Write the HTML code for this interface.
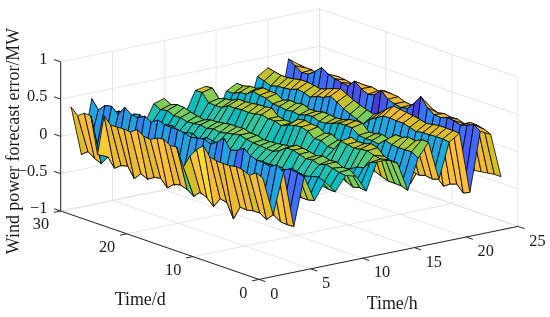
<!DOCTYPE html>
<html><head><meta charset="utf-8"><title>Wind power forecast error</title>
<style>html,body{margin:0;padding:0;background:#fff}svg{display:block}</style></head>
<body>
<svg width="550" height="317" viewBox="0 0 550 317">
<rect width="550" height="317" fill="#fff"/>
<path d="M259 279.4L60.7 211M310.8 268.8L112.5 200.4M362.6 258.2L164.3 189.8M414.4 247.6L216.1 179.2M466.2 237L267.9 168.6M518 226.4L319.7 158M259 279.4L518 226.4M192.9 256.6L451.9 203.6M126.8 233.8L385.8 180.8M60.7 211L319.7 158M60.7 211L60.7 61.8M112.5 200.4L112.5 51.2M164.3 189.8L164.3 40.6M216.1 179.2L216.1 30M267.9 168.6L267.9 19.4M319.7 158L319.7 8.8M60.7 211L319.7 158M60.7 173.7L319.7 120.7M60.7 136.4L319.7 83.4M60.7 99.1L319.7 46.1M60.7 61.8L319.7 8.8M518 226.4L518 77.2M451.9 203.6L451.9 54.4M385.8 180.8L385.8 31.6M319.7 158L319.7 8.8M518 226.4L319.7 158M518 189.1L319.7 120.7M518 151.8L319.7 83.4M518 114.5L319.7 46.1M518 77.2L319.7 8.8" stroke="#e0e0e0" stroke-width="0.8" fill="none"/>
<g stroke="#000" stroke-width="0.8" stroke-linejoin="round">
<path d="M305.6 67.8L315.9 115.9L309.3 116.1L299 64.6Z" fill="#e7bb2d"/>
<path d="M295.2 65.9L305.6 67.8L299 64.6L288.6 58.9Z" fill="#fcbc3d"/>
<path d="M284.9 127.6L295.2 65.9L288.6 58.9L278.3 117Z" fill="#416bfe"/>
<path d="M274.5 71.7L284.9 127.6L278.3 117L267.9 67.9Z" fill="#f5ba3b"/>
<path d="M264.1 81L274.5 71.7L267.9 67.9L257.5 76.6Z" fill="#c4c22a"/>
<path d="M253.8 114.3L264.1 81L257.5 76.6L247.2 113.3Z" fill="#16afd9"/>
<path d="M243.4 86L253.8 114.3L247.2 113.3L236.8 83.3Z" fill="#bec32e"/>
<path d="M233.1 93.5L243.4 86L236.8 83.3L226.5 91Z" fill="#8dcb4f"/>
<path d="M222.7 117.7L233.1 93.5L226.5 91L216.1 117.4Z" fill="#05b6ce"/>
<path d="M212.3 88L222.7 117.7L216.1 117.4L205.7 86.4Z" fill="#dfbc2a"/>
<path d="M202 92.6L212.3 88L205.7 86.4L195.4 90.4Z" fill="#cdc028"/>
<path d="M191.6 119.7L202 92.6L195.4 90.4L185 114.4Z" fill="#0ebdbb"/>
<path d="M181.3 121.9L191.6 119.7L185 114.4L174.7 118.8Z" fill="#0dbdbc"/>
<path d="M170.9 104.6L181.3 121.9L174.7 118.8L164.3 98.4Z" fill="#9dc943"/>
<path d="M160.6 109.7L170.9 104.6L164.3 98.4L153.9 103.7Z" fill="#80cc59"/>
<path d="M150.2 125.9L160.6 109.7L153.9 103.7L143.6 125.7Z" fill="#21c1b1"/>
<path d="M139.8 114.6L150.2 125.9L143.6 125.7L133.2 114Z" fill="#7acc5e"/>
<path d="M129.5 138.4L139.8 114.6L133.2 114L122.9 136.1Z" fill="#0fb2d5"/>
<path d="M119.1 111L129.5 138.4L122.9 136.1L112.5 113.2Z" fill="#c2c32c"/>
<path d="M108.8 154.1L119.1 111L112.5 113.2L102.1 155.7Z" fill="#2c90f0"/>
<path d="M98.4 109.9L108.8 154.1L102.1 155.7L91.8 98.7Z" fill="#e8bb2f"/>
<path d="M88 151.6L98.4 109.9L91.8 98.7L81.4 154.5Z" fill="#1fa5e2"/>
<path d="M77.7 115.7L88 151.6L81.4 154.5L71.1 107Z" fill="#debd29"/>
<path d="M312.2 69.9L322.6 117.8L315.9 115.9L305.6 67.8Z" fill="#e8bb2e"/>
<path d="M301.8 72.7L312.2 69.9L305.6 67.8L295.2 65.9Z" fill="#e3bb2c"/>
<path d="M291.5 130.7L301.8 72.7L295.2 65.9L284.9 127.6Z" fill="#4368fe"/>
<path d="M281.1 75.4L291.5 130.7L284.9 127.6L274.5 71.7Z" fill="#edba33"/>
<path d="M270.8 85.9L281.1 75.4L274.5 71.7L264.1 81Z" fill="#aec637"/>
<path d="M260.4 115.5L270.8 85.9L264.1 81L253.8 114.3Z" fill="#11b1d6"/>
<path d="M250 86.3L260.4 115.5L253.8 114.3L243.4 86Z" fill="#cec028"/>
<path d="M239.7 92.4L250 86.3L243.4 86L233.1 93.5Z" fill="#adc638"/>
<path d="M229.3 119.5L239.7 92.4L233.1 93.5L222.7 117.7Z" fill="#04b6cc"/>
<path d="M219 98.5L229.3 119.5L222.7 117.7L212.3 88Z" fill="#9bc944"/>
<path d="M208.6 102.8L219 98.5L212.3 88L202 92.6Z" fill="#87cb54"/>
<path d="M198.2 120.2L208.6 102.8L202 92.6L191.6 119.7Z" fill="#1cc0b3"/>
<path d="M187.9 124.3L198.2 120.2L191.6 119.7L181.3 121.9Z" fill="#0bbdbc"/>
<path d="M177.5 104.7L187.9 124.3L181.3 121.9L170.9 104.6Z" fill="#b1c636"/>
<path d="M167.2 110.6L177.5 104.7L170.9 104.6L160.6 109.7Z" fill="#8dcb4f"/>
<path d="M156.8 133.7L167.2 110.6L160.6 109.7L150.2 125.9Z" fill="#01b8ca"/>
<path d="M146.4 124.4L156.8 133.7L150.2 125.9L139.8 114.6Z" fill="#3bc992"/>
<path d="M136.1 144.4L146.4 124.4L139.8 114.6L129.5 138.4Z" fill="#1da8e0"/>
<path d="M125.7 115.3L136.1 144.4L129.5 138.4L119.1 111Z" fill="#b0c636"/>
<path d="M115.4 157.7L125.7 115.3L119.1 111L108.8 154.1Z" fill="#2d8bf4"/>
<path d="M105 105.5L115.4 157.7L108.8 154.1L98.4 109.9Z" fill="#fec735"/>
<path d="M94.6 158.4L105 105.5L98.4 109.9L88 151.6Z" fill="#2797ea"/>
<path d="M84.3 113.2L94.6 158.4L88 151.6L77.7 115.7Z" fill="#fabb3d"/>
<path d="M318.8 76.5L329.2 119.7L322.6 117.8L312.2 69.9Z" fill="#c9c129"/>
<path d="M308.4 74.2L318.8 76.5L312.2 69.9L301.8 72.7Z" fill="#e8bb2f"/>
<path d="M298.1 131.6L308.4 74.2L301.8 72.7L291.5 130.7Z" fill="#3f6efe"/>
<path d="M287.7 77.8L298.1 131.6L291.5 130.7L281.1 75.4Z" fill="#ecba32"/>
<path d="M277.4 86.3L287.7 77.8L281.1 75.4L270.8 85.9Z" fill="#bec32e"/>
<path d="M267 119.4L277.4 86.3L270.8 85.9L260.4 115.5Z" fill="#18addb"/>
<path d="M256.6 88.4L267 119.4L260.4 115.5L250 86.3Z" fill="#cfc028"/>
<path d="M246.3 94.2L256.6 88.4L250 86.3L239.7 92.4Z" fill="#b1c636"/>
<path d="M235.9 122.2L246.3 94.2L239.7 92.4L229.3 119.5Z" fill="#05b6ce"/>
<path d="M225.6 98.9L235.9 122.2L229.3 119.5L219 98.5Z" fill="#adc638"/>
<path d="M215.2 105.6L225.6 98.9L219 98.5L208.6 102.8Z" fill="#82cc57"/>
<path d="M204.8 122.8L215.2 105.6L208.6 102.8L198.2 120.2Z" fill="#1ac0b5"/>
<path d="M194.5 128.6L204.8 122.8L198.2 120.2L187.9 124.3Z" fill="#01bac5"/>
<path d="M184.1 107.6L194.5 128.6L187.9 124.3L177.5 104.7Z" fill="#abc739"/>
<path d="M173.8 115.7L184.1 107.6L177.5 104.7L167.2 110.6Z" fill="#71cd64"/>
<path d="M163.4 133.4L173.8 115.7L167.2 110.6L156.8 133.7Z" fill="#09bcbe"/>
<path d="M153 128.9L163.4 133.4L156.8 133.7L146.4 124.4Z" fill="#32c69f"/>
<path d="M142.7 145.1L153 128.9L146.4 124.4L136.1 144.4Z" fill="#19addc"/>
<path d="M132.3 120.3L142.7 145.1L136.1 144.4L125.7 115.3Z" fill="#98ca47"/>
<path d="M122 164.6L132.3 120.3L125.7 115.3L115.4 157.7Z" fill="#347afd"/>
<path d="M111.6 106.3L122 164.6L115.4 157.7L105 105.5Z" fill="#fdcd31"/>
<path d="M101.3 163.6L111.6 106.3L105 105.5L94.6 158.4Z" fill="#2d8df2"/>
<path d="M90.9 115.8L101.3 163.6L94.6 158.4L84.3 113.2Z" fill="#f9bb3d"/>
<path d="M325.4 79.5L335.8 123.5L329.2 119.7L318.8 76.5Z" fill="#c3c22b"/>
<path d="M315.1 71.3L325.4 79.5L318.8 76.5L308.4 74.2Z" fill="#fec13a"/>
<path d="M304.7 130.9L315.1 71.3L308.4 74.2L298.1 131.6Z" fill="#347afd"/>
<path d="M294.3 78.9L304.7 130.9L298.1 131.6L287.7 77.8Z" fill="#f3ba39"/>
<path d="M284 88L294.3 78.9L287.7 77.8L277.4 86.3Z" fill="#c3c22b"/>
<path d="M273.6 124.1L284 88L277.4 86.3L267 119.4Z" fill="#1ea7e1"/>
<path d="M263.3 87.9L273.6 124.1L267 119.4L256.6 88.4Z" fill="#e3bc2c"/>
<path d="M252.9 91L263.3 87.9L256.6 88.4L246.3 94.2Z" fill="#ddbd29"/>
<path d="M242.5 123.4L252.9 91L246.3 94.2L235.9 122.2Z" fill="#01b8ca"/>
<path d="M232.2 100.2L242.5 123.4L235.9 122.2L225.6 98.9Z" fill="#b5c533"/>
<path d="M221.8 107.5L232.2 100.2L225.6 98.9L215.2 105.6Z" fill="#85cb55"/>
<path d="M211.5 123.1L221.8 107.5L215.2 105.6L204.8 122.8Z" fill="#27c2ab"/>
<path d="M201.1 134.3L211.5 123.1L204.8 122.8L194.5 128.6Z" fill="#0db3d3"/>
<path d="M190.7 112L201.1 134.3L194.5 128.6L184.1 107.6Z" fill="#97ca47"/>
<path d="M180.4 117.7L190.7 112L184.1 107.6L173.8 115.7Z" fill="#75cc61"/>
<path d="M170 135.7L180.4 117.7L173.8 115.7L163.4 133.4Z" fill="#08bcbe"/>
<path d="M159.7 124.2L170 135.7L163.4 133.4L153 128.9Z" fill="#60cd73"/>
<path d="M149.3 149.1L159.7 124.2L153 128.9L142.7 145.1Z" fill="#1da8e0"/>
<path d="M138.9 125.6L149.3 149.1L142.7 145.1L132.3 120.3Z" fill="#7bcc5d"/>
<path d="M128.6 162.2L138.9 125.6L132.3 120.3L122 164.6Z" fill="#2d8bf3"/>
<path d="M118.2 114.5L128.6 162.2L122 164.6L111.6 106.3Z" fill="#f5ba3b"/>
<path d="M107.9 156.9L118.2 114.5L111.6 106.3L101.3 163.6Z" fill="#1caadf"/>
<path d="M97.5 154.6L107.9 156.9L101.3 163.6L90.9 115.8Z" fill="#07b5d0"/>
<path d="M332 77.8L342.4 123.6L335.8 123.5L325.4 79.5Z" fill="#e1bc2b"/>
<path d="M321.7 67.7L332 77.8L325.4 79.5L315.1 71.3Z" fill="#f8d92b"/>
<path d="M311.3 131.6L321.7 67.7L315.1 71.3L304.7 130.9Z" fill="#3080fa"/>
<path d="M300.9 79.9L311.3 131.6L304.7 130.9L294.3 78.9Z" fill="#fabb3d"/>
<path d="M290.6 89.5L300.9 79.9L294.3 78.9L284 88Z" fill="#c9c129"/>
<path d="M280.2 128.3L290.6 89.5L284 88L273.6 124.1Z" fill="#23a1e4"/>
<path d="M269.9 91.3L280.2 128.3L273.6 124.1L263.3 87.9Z" fill="#dcbd29"/>
<path d="M259.5 95.3L269.9 91.3L263.3 87.9L252.9 91Z" fill="#cec028"/>
<path d="M249.1 126.1L259.5 95.3L252.9 91L242.5 123.4Z" fill="#03b7cb"/>
<path d="M238.8 99.3L249.1 126.1L242.5 123.4L232.2 100.2Z" fill="#d0bf27"/>
<path d="M228.4 105.7L238.8 99.3L232.2 100.2L221.8 107.5Z" fill="#acc739"/>
<path d="M218.1 123L228.4 105.7L221.8 107.5L211.5 123.1Z" fill="#31c69f"/>
<path d="M207.7 134.5L218.1 123L211.5 123.1L201.1 134.3Z" fill="#02b7cb"/>
<path d="M197.4 116L207.7 134.5L201.1 134.3L190.7 112Z" fill="#87cb54"/>
<path d="M187 121.8L197.4 116L190.7 112L180.4 117.7Z" fill="#64cd6f"/>
<path d="M176.6 134.7L187 121.8L180.4 117.7L170 135.7Z" fill="#23c1af"/>
<path d="M166.3 124.9L176.6 134.7L170 135.7L159.7 124.2Z" fill="#6ecd67"/>
<path d="M155.9 147.5L166.3 124.9L159.7 124.2L149.3 149.1Z" fill="#0fb2d5"/>
<path d="M145.6 130.6L155.9 147.5L149.3 149.1L138.9 125.6Z" fill="#61cd71"/>
<path d="M135.2 167.1L145.6 130.6L138.9 125.6L128.6 162.2Z" fill="#2f82fa"/>
<path d="M124.8 107.5L135.2 167.1L128.6 162.2L118.2 114.5Z" fill="#f7db2a"/>
<path d="M114.5 168.2L124.8 107.5L118.2 114.5L107.9 156.9Z" fill="#2d8df2"/>
<path d="M104.1 115.8L114.5 168.2L107.9 156.9L97.5 154.6Z" fill="#feca33"/>
<path d="M338.6 76.7L349 124.9L342.4 123.6L332 77.8Z" fill="#f6ba3b"/>
<path d="M328.3 74.3L338.6 76.7L332 77.8L321.7 67.7Z" fill="#fec735"/>
<path d="M317.9 140.7L328.3 74.3L321.7 67.7L311.3 131.6Z" fill="#4465fd"/>
<path d="M307.6 82.2L317.9 140.7L311.3 131.6L300.9 79.9Z" fill="#fabb3d"/>
<path d="M297.2 89.2L307.6 82.2L300.9 79.9L290.6 89.5Z" fill="#ddbd29"/>
<path d="M286.8 128.6L297.2 89.2L290.6 89.5L280.2 128.3Z" fill="#1ea7e1"/>
<path d="M276.5 93.6L286.8 128.6L280.2 128.3L269.9 91.3Z" fill="#dcbd29"/>
<path d="M266.1 98.3L276.5 93.6L269.9 91.3L259.5 95.3Z" fill="#c8c129"/>
<path d="M255.8 132.1L266.1 98.3L259.5 95.3L249.1 126.1Z" fill="#16afda"/>
<path d="M245.4 101.8L255.8 132.1L249.1 126.1L238.8 99.3Z" fill="#cdc028"/>
<path d="M235 108.4L245.4 101.8L238.8 99.3L228.4 105.7Z" fill="#a8c73b"/>
<path d="M224.7 127.2L235 108.4L228.4 105.7L218.1 123Z" fill="#2ac3a9"/>
<path d="M214.3 137.5L224.7 127.2L218.1 123L207.7 134.5Z" fill="#05b6ce"/>
<path d="M204 119.9L214.3 137.5L207.7 134.5L197.4 116Z" fill="#77cc60"/>
<path d="M193.6 123.5L204 119.9L197.4 116L187 121.8Z" fill="#69cd6a"/>
<path d="M183.2 137.1L193.6 123.5L187 121.8L176.6 134.7Z" fill="#22c1b0"/>
<path d="M172.9 125.9L183.2 137.1L176.6 134.7L166.3 124.9Z" fill="#7bcc5d"/>
<path d="M162.5 150L172.9 125.9L166.3 124.9L155.9 147.5Z" fill="#11b1d6"/>
<path d="M152.2 123.9L162.5 150L155.9 147.5L145.6 130.6Z" fill="#b5c533"/>
<path d="M141.8 164.5L152.2 123.9L145.6 130.6L135.2 167.1Z" fill="#2a93ed"/>
<path d="M131.4 114.6L141.8 164.5L135.2 167.1L124.8 107.5Z" fill="#fec735"/>
<path d="M121.1 165.6L131.4 114.6L124.8 107.5L114.5 168.2Z" fill="#249de6"/>
<path d="M110.7 125.1L121.1 165.6L114.5 168.2L104.1 115.8Z" fill="#ebba31"/>
<path d="M345.2 80L355.6 128.5L349 124.9L338.6 76.7Z" fill="#efba35"/>
<path d="M334.9 78.9L345.2 80L338.6 76.7L328.3 74.3Z" fill="#febe3c"/>
<path d="M324.5 139L334.9 78.9L328.3 74.3L317.9 140.7Z" fill="#3975fe"/>
<path d="M314.2 85.6L324.5 139L317.9 140.7L307.6 82.2Z" fill="#f4ba39"/>
<path d="M303.8 92.7L314.2 85.6L307.6 82.2L297.2 89.2Z" fill="#d3bf27"/>
<path d="M293.5 129.3L303.8 92.7L297.2 89.2L286.8 128.6Z" fill="#1aabdd"/>
<path d="M283.1 100.2L293.5 129.3L286.8 128.6L276.5 93.6Z" fill="#b9c430"/>
<path d="M272.7 103.9L283.1 100.2L276.5 93.6L266.1 98.3Z" fill="#acc738"/>
<path d="M262.4 134.8L272.7 103.9L266.1 98.3L255.8 132.1Z" fill="#18addb"/>
<path d="M252 103.5L262.4 134.8L255.8 132.1L245.4 101.8Z" fill="#d2bf27"/>
<path d="M241.7 109.7L252 103.5L245.4 101.8L235 108.4Z" fill="#b1c636"/>
<path d="M231.3 134.2L241.7 109.7L235 108.4L224.7 127.2Z" fill="#07bcbf"/>
<path d="M220.9 136.7L231.3 134.2L224.7 127.2L214.3 137.5Z" fill="#05bbc1"/>
<path d="M210.6 119.9L220.9 136.7L214.3 137.5L204 119.9Z" fill="#8dcb4f"/>
<path d="M200.2 124.9L210.6 119.9L204 119.9L193.6 123.5Z" fill="#71cd64"/>
<path d="M189.8 138.8L200.2 124.9L193.6 123.5L183.2 137.1Z" fill="#25c2ad"/>
<path d="M179.5 132.6L189.8 138.8L183.2 137.1L172.9 125.9Z" fill="#53cc7d"/>
<path d="M169.1 155.8L179.5 132.6L172.9 125.9L162.5 150Z" fill="#1da8e0"/>
<path d="M158.8 129.6L169.1 155.8L162.5 150L152.2 123.9Z" fill="#96ca49"/>
<path d="M148.4 168.5L158.8 129.6L152.2 123.9L141.8 164.5Z" fill="#2d8df2"/>
<path d="M138 117.7L148.4 168.5L141.8 164.5L131.4 114.6Z" fill="#fec437"/>
<path d="M127.7 166L138 117.7L131.4 114.6L121.1 165.6Z" fill="#21a3e3"/>
<path d="M117.3 127.1L127.7 166L121.1 165.6L110.7 125.1Z" fill="#edba33"/>
<path d="M351.9 83.5L362.2 129.9L355.6 128.5L345.2 80Z" fill="#e8bb2f"/>
<path d="M341.5 82.6L351.9 83.5L345.2 80L334.9 78.9Z" fill="#f9bb3d"/>
<path d="M331.1 149.9L341.5 82.6L334.9 78.9L324.5 139Z" fill="#4853f5"/>
<path d="M320.8 89.1L331.1 149.9L324.5 139L314.2 85.6Z" fill="#edba33"/>
<path d="M310.4 97.3L320.8 89.1L314.2 85.6L303.8 92.7Z" fill="#c1c32c"/>
<path d="M300.1 134.2L310.4 97.3L303.8 92.7L293.5 129.3Z" fill="#21a4e3"/>
<path d="M289.7 100.3L300.1 134.2L293.5 129.3L283.1 100.2Z" fill="#cbc129"/>
<path d="M279.3 106.4L289.7 100.3L283.1 100.2L272.7 103.9Z" fill="#aac73a"/>
<path d="M269 140.7L279.3 106.4L272.7 103.9L262.4 134.8Z" fill="#21a3e3"/>
<path d="M258.6 104.7L269 140.7L262.4 134.8L252 103.5Z" fill="#dabd28"/>
<path d="M248.3 112.6L258.6 104.7L252 103.5L241.7 109.7Z" fill="#acc739"/>
<path d="M237.9 135.4L248.3 112.6L241.7 109.7L231.3 134.2Z" fill="#10beba"/>
<path d="M227.5 138.1L237.9 135.4L231.3 134.2L220.9 136.7Z" fill="#0bbdbd"/>
<path d="M217.2 122L227.5 138.1L220.9 136.7L210.6 119.9Z" fill="#8fca4d"/>
<path d="M206.8 128.6L217.2 122L210.6 119.9L200.2 124.9Z" fill="#64cd6f"/>
<path d="M196.5 142.7L206.8 128.6L200.2 124.9L189.8 138.8Z" fill="#1ac0b5"/>
<path d="M186.1 132.5L196.5 142.7L189.8 138.8L179.5 132.6Z" fill="#67cd6c"/>
<path d="M175.7 156.6L186.1 132.5L179.5 132.6L169.1 155.8Z" fill="#19acdc"/>
<path d="M165.4 128.4L175.7 156.6L169.1 155.8L158.8 129.6Z" fill="#b5c533"/>
<path d="M155 172.3L165.4 128.4L158.8 129.6L148.4 168.5Z" fill="#2d88f6"/>
<path d="M144.7 116.2L155 172.3L148.4 168.5L138 117.7Z" fill="#fbd32e"/>
<path d="M134.3 178.7L144.7 116.2L138 117.7L127.7 166Z" fill="#3080fa"/>
<path d="M123.9 129L134.3 178.7L127.7 166L117.3 127.1Z" fill="#efba35"/>
<path d="M358.5 85L368.8 134L362.2 129.9L351.9 83.5Z" fill="#edba33"/>
<path d="M348.1 86L358.5 85L351.9 83.5L341.5 82.6Z" fill="#f3ba39"/>
<path d="M337.8 149.7L348.1 86L341.5 82.6L331.1 149.9Z" fill="#475dfa"/>
<path d="M327.4 88.8L337.8 149.7L331.1 149.9L320.8 89.1Z" fill="#fabb3d"/>
<path d="M317 96.4L327.4 88.8L320.8 89.1L310.4 97.3Z" fill="#dabd28"/>
<path d="M306.7 137.8L317 96.4L310.4 97.3L300.1 134.2Z" fill="#23a0e5"/>
<path d="M296.3 103.3L306.7 137.8L300.1 134.2L289.7 100.3Z" fill="#c5c22a"/>
<path d="M285.9 110L296.3 103.3L289.7 100.3L279.3 106.4Z" fill="#9dc943"/>
<path d="M275.6 138.1L285.9 110L279.3 106.4L269 140.7Z" fill="#12b1d7"/>
<path d="M265.2 107L275.6 138.1L269 140.7L258.6 104.7Z" fill="#dabd28"/>
<path d="M254.9 114.1L265.2 107L258.6 104.7L248.3 112.6Z" fill="#b2c535"/>
<path d="M244.5 131.7L254.9 114.1L248.3 112.6L237.9 135.4Z" fill="#33c69d"/>
<path d="M234.1 139.5L244.5 131.7L237.9 135.4L227.5 138.1Z" fill="#13beb9"/>
<path d="M223.8 123.2L234.1 139.5L227.5 138.1L217.2 122Z" fill="#99c946"/>
<path d="M213.4 128.9L223.8 123.2L217.2 122L206.8 128.6Z" fill="#77cc60"/>
<path d="M203.1 143L213.4 128.9L206.8 128.6L196.5 142.7Z" fill="#27c2ab"/>
<path d="M192.7 133.5L203.1 143L196.5 142.7L186.1 132.5Z" fill="#73cd63"/>
<path d="M182.3 153.2L192.7 133.5L186.1 132.5L175.7 156.6Z" fill="#01b9c7"/>
<path d="M172 139.1L182.3 153.2L175.7 156.6L165.4 128.4Z" fill="#66cd6d"/>
<path d="M161.6 175.6L172 139.1L165.4 128.4L155 172.3Z" fill="#2e84f8"/>
<path d="M151.3 122.2L161.6 175.6L155 172.3L144.7 116.2Z" fill="#fec437"/>
<path d="M140.9 173.6L151.3 122.2L144.7 116.2L134.3 178.7Z" fill="#269ae9"/>
<path d="M130.6 132L140.9 173.6L134.3 178.7L123.9 129Z" fill="#eaba31"/>
<path d="M365.1 85.4L375.4 137.6L368.8 134L358.5 85Z" fill="#f8ba3d"/>
<path d="M354.7 81.2L365.1 85.4L358.5 85L348.1 86Z" fill="#fcd030"/>
<path d="M344.4 154.7L354.7 81.2L348.1 86L337.8 149.7Z" fill="#4853f4"/>
<path d="M334 88.5L344.4 154.7L337.8 149.7L327.4 88.8Z" fill="#fec438"/>
<path d="M323.6 97.6L334 88.5L327.4 88.8L317 96.4Z" fill="#e1bc2b"/>
<path d="M313.3 142.6L323.6 97.6L317 96.4L306.7 137.8Z" fill="#2797ea"/>
<path d="M302.9 104.2L313.3 142.6L306.7 137.8L296.3 103.3Z" fill="#d1bf27"/>
<path d="M292.6 111.4L302.9 104.2L296.3 103.3L285.9 110Z" fill="#a5c83d"/>
<path d="M282.2 140.1L292.6 111.4L285.9 110L275.6 138.1Z" fill="#11b1d6"/>
<path d="M271.8 108L282.2 140.1L275.6 138.1L265.2 107Z" fill="#e3bc2c"/>
<path d="M261.5 114.6L271.8 108L265.2 107L254.9 114.1Z" fill="#c1c32c"/>
<path d="M251.1 134.2L261.5 114.6L254.9 114.1L244.5 131.7Z" fill="#32c69e"/>
<path d="M240.8 140L251.1 134.2L244.5 131.7L234.1 139.5Z" fill="#20c1b1"/>
<path d="M230.4 124.4L240.8 140L234.1 139.5L223.8 123.2Z" fill="#a3c83f"/>
<path d="M220 132.5L230.4 124.4L223.8 123.2L213.4 128.9Z" fill="#6acd6a"/>
<path d="M209.7 144.7L220 132.5L213.4 128.9L203.1 143Z" fill="#2ac3a9"/>
<path d="M199.3 140.6L209.7 144.7L203.1 143L192.7 133.5Z" fill="#49cb85"/>
<path d="M189 153.4L199.3 140.6L192.7 133.5L182.3 153.2Z" fill="#0abdbd"/>
<path d="M178.6 136.5L189 153.4L182.3 153.2L172 139.1Z" fill="#95ca49"/>
<path d="M168.2 182.6L178.6 136.5L172 139.1L161.6 175.6Z" fill="#3c72ff"/>
<path d="M157.9 120L168.2 182.6L161.6 175.6L151.3 122.2Z" fill="#f9d62d"/>
<path d="M147.5 179.2L157.9 120L151.3 122.2L140.9 173.6Z" fill="#2c8ff1"/>
<path d="M137.2 129.5L147.5 179.2L140.9 173.6L130.6 132Z" fill="#fec13a"/>
<path d="M371.7 87L382 138L375.4 137.6L365.1 85.4Z" fill="#fbbc3d"/>
<path d="M361.3 88.7L371.7 87L365.1 85.4L354.7 81.2Z" fill="#fcbc3d"/>
<path d="M351 157.5L361.3 88.7L354.7 81.2L344.4 154.7Z" fill="#4850f3"/>
<path d="M340.6 88.8L351 157.5L344.4 154.7L334 88.5Z" fill="#fdcc32"/>
<path d="M330.2 96.1L340.6 88.8L334 88.5L323.6 97.6Z" fill="#f8ba3d"/>
<path d="M319.9 144.5L330.2 96.1L323.6 97.6L313.3 142.6Z" fill="#2699e9"/>
<path d="M309.5 109.3L319.9 144.5L313.3 142.6L302.9 104.2Z" fill="#bac430"/>
<path d="M299.2 115.1L309.5 109.3L302.9 104.2L292.6 111.4Z" fill="#98c947"/>
<path d="M288.8 138.7L299.2 115.1L292.6 111.4L282.2 140.1Z" fill="#01b9c7"/>
<path d="M278.4 116.6L288.8 138.7L282.2 140.1L271.8 108Z" fill="#b2c635"/>
<path d="M268.1 118.7L278.4 116.6L271.8 108L261.5 114.6Z" fill="#b2c635"/>
<path d="M257.7 137.1L268.1 118.7L261.5 114.6L251.1 134.2Z" fill="#30c5a1"/>
<path d="M247.4 141.3L257.7 137.1L251.1 134.2L240.8 140Z" fill="#27c2ac"/>
<path d="M237 126.7L247.4 141.3L240.8 140L230.4 124.4Z" fill="#a3c83f"/>
<path d="M226.7 133.2L237 126.7L230.4 124.4L220 132.5Z" fill="#7acc5e"/>
<path d="M216.3 145.2L226.7 133.2L220 132.5L209.7 144.7Z" fill="#31c69f"/>
<path d="M205.9 137.4L216.3 145.2L209.7 144.7L199.3 140.6Z" fill="#7acc5e"/>
<path d="M195.6 157.3L205.9 137.4L199.3 140.6L189 153.4Z" fill="#02bac4"/>
<path d="M185.2 138.9L195.6 157.3L189 153.4L178.6 136.5Z" fill="#94ca4a"/>
<path d="M174.8 185.1L185.2 138.9L178.6 136.5L168.2 182.6Z" fill="#3d71ff"/>
<path d="M164.5 124.5L174.8 185.1L168.2 182.6L157.9 120Z" fill="#fdcd31"/>
<path d="M154.1 177.4L164.5 124.5L157.9 120L147.5 179.2Z" fill="#259ce7"/>
<path d="M143.8 136.4L154.1 177.4L147.5 179.2L137.2 129.5Z" fill="#ecba32"/>
<path d="M378.3 90.8L388.7 141.2L382 138L371.7 87Z" fill="#f3ba39"/>
<path d="M367.9 94.4L378.3 90.8L371.7 87L361.3 88.7Z" fill="#eaba31"/>
<path d="M357.6 153.6L367.9 94.4L361.3 88.7L351 157.5Z" fill="#4368fe"/>
<path d="M347.2 94.6L357.6 153.6L351 157.5L340.6 88.8Z" fill="#febe3c"/>
<path d="M336.9 102.1L347.2 94.6L340.6 88.8L330.2 96.1Z" fill="#e2bc2b"/>
<path d="M326.5 147.3L336.9 102.1L330.2 96.1L319.9 144.5Z" fill="#2797eb"/>
<path d="M316.1 111.3L326.5 147.3L319.9 144.5L309.5 109.3Z" fill="#bcc42f"/>
<path d="M305.8 114.9L316.1 111.3L309.5 109.3L299.2 115.1Z" fill="#afc637"/>
<path d="M295.4 144.1L305.8 114.9L299.2 115.1L288.8 138.7Z" fill="#0db3d3"/>
<path d="M285.1 120.1L295.4 144.1L288.8 138.7L278.4 116.6Z" fill="#a6c73c"/>
<path d="M274.7 121L285.1 120.1L278.4 116.6L268.1 118.7Z" fill="#b2c635"/>
<path d="M264.3 142L274.7 121L268.1 118.7L257.7 137.1Z" fill="#24c1ae"/>
<path d="M254 148.1L264.3 142L257.7 137.1L247.4 141.3Z" fill="#05bbc1"/>
<path d="M243.6 128.5L254 148.1L247.4 141.3L237 126.7Z" fill="#a8c73b"/>
<path d="M233.3 134.1L243.6 128.5L237 126.7L226.7 133.2Z" fill="#86cb54"/>
<path d="M222.9 147.9L233.3 134.1L226.7 133.2L216.3 145.2Z" fill="#30c5a2"/>
<path d="M212.5 140.7L222.9 147.9L216.3 145.2L205.9 137.4Z" fill="#70cd65"/>
<path d="M202.2 164.8L212.5 140.7L205.9 137.4L195.6 157.3Z" fill="#16afda"/>
<path d="M191.8 138.5L202.2 164.8L195.6 157.3L185.2 138.9Z" fill="#adc638"/>
<path d="M181.5 179.1L191.8 138.5L185.2 138.9L174.8 185.1Z" fill="#2c90f0"/>
<path d="M171.1 127.6L181.5 179.1L174.8 185.1L164.5 124.5Z" fill="#feca33"/>
<path d="M160.7 178.2L171.1 127.6L164.5 124.5L154.1 177.4Z" fill="#23a1e5"/>
<path d="M150.4 139.5L160.7 178.2L154.1 177.4L143.8 136.4Z" fill="#e7bb2e"/>
<path d="M384.9 91.1L395.3 140.9L388.7 141.2L378.3 90.8Z" fill="#fcbc3d"/>
<path d="M374.5 94.8L384.9 91.1L378.3 90.8L367.9 94.4Z" fill="#f5ba3b"/>
<path d="M364.2 150.1L374.5 94.8L367.9 94.4L357.6 153.6Z" fill="#307ffb"/>
<path d="M353.8 100.3L364.2 150.1L357.6 153.6L347.2 94.6Z" fill="#eeba34"/>
<path d="M343.5 108.6L353.8 100.3L347.2 94.6L336.9 102.1Z" fill="#c3c22b"/>
<path d="M333.1 148L343.5 108.6L336.9 102.1L326.5 147.3Z" fill="#259ce7"/>
<path d="M322.8 112L333.1 148L326.5 147.3L316.1 111.3Z" fill="#c9c129"/>
<path d="M312.4 116.5L322.8 112L316.1 111.3L305.8 114.9Z" fill="#b5c533"/>
<path d="M302 144.3L312.4 116.5L305.8 114.9L295.4 144.1Z" fill="#02b7cb"/>
<path d="M291.7 122.8L302 144.3L295.4 144.1L285.1 120.1Z" fill="#a3c83f"/>
<path d="M281.3 125.7L291.7 122.8L285.1 120.1L274.7 121Z" fill="#9cc944"/>
<path d="M270.9 145.9L281.3 125.7L274.7 121L264.3 142Z" fill="#18bfb6"/>
<path d="M260.6 153.4L270.9 145.9L264.3 142L254 148.1Z" fill="#05b6cd"/>
<path d="M250.2 132.9L260.6 153.4L254 148.1L243.6 128.5Z" fill="#93ca4a"/>
<path d="M239.9 135L250.2 132.9L243.6 128.5L233.3 134.1Z" fill="#94ca4a"/>
<path d="M229.5 150.4L239.9 135L233.3 134.1L222.9 147.9Z" fill="#2fc5a3"/>
<path d="M219.1 144.3L229.5 150.4L222.9 147.9L212.5 140.7Z" fill="#64cd6f"/>
<path d="M208.8 167.4L219.1 144.3L212.5 140.7L202.2 164.8Z" fill="#17aedb"/>
<path d="M198.4 142.6L208.8 167.4L202.2 164.8L191.8 138.5Z" fill="#9cc944"/>
<path d="M188.1 187.7L198.4 142.6L191.8 138.5L181.5 179.1Z" fill="#3579fd"/>
<path d="M177.7 129.5L188.1 187.7L181.5 179.1L171.1 127.6Z" fill="#fdcc32"/>
<path d="M167.4 187.9L177.7 129.5L171.1 127.6L160.7 178.2Z" fill="#2d88f6"/>
<path d="M157 138L167.4 187.9L160.7 178.2L150.4 139.5Z" fill="#fbbc3d"/>
<path d="M391.5 93.9L401.9 146.7L395.3 140.9L384.9 91.1Z" fill="#fabb3d"/>
<path d="M381.2 90.3L391.5 93.9L384.9 91.1L374.5 94.8Z" fill="#fcd030"/>
<path d="M370.8 170.1L381.2 90.3L374.5 94.8L364.2 150.1Z" fill="#463bdd"/>
<path d="M360.4 105.4L370.8 170.1L364.2 150.1L353.8 100.3Z" fill="#dcbd29"/>
<path d="M350.1 114.2L360.4 105.4L353.8 100.3L343.5 108.6Z" fill="#a6c83d"/>
<path d="M339.7 150.5L350.1 114.2L343.5 108.6L333.1 148Z" fill="#259be7"/>
<path d="M329.4 114.7L339.7 150.5L333.1 148L322.8 112Z" fill="#c6c22a"/>
<path d="M319 121.5L329.4 114.7L322.8 112L312.4 116.5Z" fill="#9dc943"/>
<path d="M308.6 151.2L319 121.5L312.4 116.5L302 144.3Z" fill="#19acdc"/>
<path d="M298.3 119.2L308.6 151.2L302 144.3L291.7 122.8Z" fill="#d4bf28"/>
<path d="M287.9 125.3L298.3 119.2L291.7 122.8L281.3 125.7Z" fill="#b4c534"/>
<path d="M277.6 149.5L287.9 125.3L281.3 125.7L270.9 145.9Z" fill="#0cbdbc"/>
<path d="M267.2 155.1L277.6 149.5L270.9 145.9L260.6 153.4Z" fill="#02b7cb"/>
<path d="M256.8 135.3L267.2 155.1L260.6 153.4L250.2 132.9Z" fill="#92ca4b"/>
<path d="M246.5 139.3L256.8 135.3L250.2 132.9L239.9 135Z" fill="#80cc59"/>
<path d="M236.1 154.4L246.5 139.3L239.9 135L229.5 150.4Z" fill="#27c2ab"/>
<path d="M225.8 146.7L236.1 154.4L229.5 150.4L219.1 144.3Z" fill="#62cd70"/>
<path d="M215.4 162.9L225.8 146.7L219.1 144.3L208.8 167.4Z" fill="#07bcbf"/>
<path d="M205 146.5L215.4 162.9L208.8 167.4L198.4 142.6Z" fill="#8ccb50"/>
<path d="M194.7 186.6L205 146.5L198.4 142.6L188.1 187.7Z" fill="#2e85f8"/>
<path d="M184.3 132.9L194.7 186.6L188.1 187.7L177.7 129.5Z" fill="#fec735"/>
<path d="M174 184.2L184.3 132.9L177.7 129.5L167.4 187.9Z" fill="#259ce7"/>
<path d="M163.6 139.2L174 184.2L167.4 187.9L157 138Z" fill="#febf3b"/>
<path d="M398.1 96.8L408.5 149.4L401.9 146.7L391.5 93.9Z" fill="#f8ba3d"/>
<path d="M387.8 99.3L398.1 96.8L391.5 93.9L381.2 90.3Z" fill="#f5ba3b"/>
<path d="M377.4 165.2L387.8 99.3L381.2 90.3L370.8 170.1Z" fill="#4756f7"/>
<path d="M367 109.9L377.4 165.2L370.8 170.1L360.4 105.4Z" fill="#ccc028"/>
<path d="M356.7 119.1L367 109.9L360.4 105.4L350.1 114.2Z" fill="#8dcb4f"/>
<path d="M346.3 153L356.7 119.1L350.1 114.2L339.7 150.5Z" fill="#259be8"/>
<path d="M336 117.9L346.3 153L339.7 150.5L329.4 114.7Z" fill="#bec32e"/>
<path d="M325.6 123.3L336 117.9L329.4 114.7L319 121.5Z" fill="#a1c840"/>
<path d="M315.2 149.9L325.6 123.3L319 121.5L308.6 151.2Z" fill="#07b5cf"/>
<path d="M304.9 120.4L315.2 149.9L308.6 151.2L298.3 119.2Z" fill="#dcbd29"/>
<path d="M294.5 125.5L304.9 120.4L298.3 119.2L287.9 125.3Z" fill="#c5c22a"/>
<path d="M284.2 151.9L294.5 125.5L287.9 125.3L277.6 149.5Z" fill="#0bbdbd"/>
<path d="M273.8 155.6L284.2 151.9L277.6 149.5L267.2 155.1Z" fill="#02bac3"/>
<path d="M263.5 139.6L273.8 155.6L267.2 155.1L256.8 135.3Z" fill="#7fcc5a"/>
<path d="M253.1 142.8L263.5 139.6L256.8 135.3L246.5 139.3Z" fill="#74cc62"/>
<path d="M242.7 157.6L253.1 142.8L246.5 139.3L236.1 154.4Z" fill="#22c1b0"/>
<path d="M232.4 153.6L242.7 157.6L236.1 154.4L225.8 146.7Z" fill="#3eca8f"/>
<path d="M222 173.7L232.4 153.6L225.8 146.7L215.4 162.9Z" fill="#1ca9e0"/>
<path d="M211.7 147.2L222 173.7L215.4 162.9L205 146.5Z" fill="#9cc944"/>
<path d="M201.3 193.8L211.7 147.2L205 146.5L194.7 186.6Z" fill="#3b73fe"/>
<path d="M190.9 137.4L201.3 193.8L194.7 186.6L184.3 132.9Z" fill="#febe3c"/>
<path d="M180.6 185L190.9 137.4L184.3 132.9L174 184.2Z" fill="#23a1e5"/>
<path d="M170.2 145.5L180.6 185L174 184.2L163.6 139.2Z" fill="#ecba32"/>
<path d="M404.7 101.9L415.1 155.3L408.5 149.4L398.1 96.8Z" fill="#e7bb2e"/>
<path d="M394.4 103.9L404.7 101.9L398.1 96.8L387.8 99.3Z" fill="#e8bb2f"/>
<path d="M384 155L394.4 103.9L387.8 99.3L377.4 165.2Z" fill="#2e86f7"/>
<path d="M373.7 114.4L384 155L377.4 165.2L367 109.9Z" fill="#b9c430"/>
<path d="M363.3 124.2L373.7 114.4L367 109.9L356.7 119.1Z" fill="#71cd64"/>
<path d="M352.9 152.4L363.3 124.2L356.7 119.1L346.3 153Z" fill="#21a4e3"/>
<path d="M342.6 119.5L352.9 152.4L346.3 153L336 117.9Z" fill="#c4c22b"/>
<path d="M332.2 123.4L342.6 119.5L336 117.9L325.6 123.3Z" fill="#b5c533"/>
<path d="M321.9 153.2L332.2 123.4L325.6 123.3L315.2 149.9Z" fill="#0db3d3"/>
<path d="M311.5 124.1L321.9 153.2L315.2 149.9L304.9 120.4Z" fill="#d2bf27"/>
<path d="M301.1 127L311.5 124.1L304.9 120.4L294.5 125.5Z" fill="#ccc028"/>
<path d="M290.8 152L301.1 127L294.5 125.5L284.2 151.9Z" fill="#1dc0b2"/>
<path d="M280.4 156.2L290.8 152L284.2 151.9L273.8 155.6Z" fill="#0cbdbc"/>
<path d="M270.1 141.6L280.4 156.2L273.8 155.6L263.5 139.6Z" fill="#82cc58"/>
<path d="M259.7 145.6L270.1 141.6L263.5 139.6L253.1 142.8Z" fill="#70cd65"/>
<path d="M249.3 157.1L259.7 145.6L253.1 142.8L242.7 157.6Z" fill="#30c5a2"/>
<path d="M239 156.9L249.3 157.1L242.7 157.6L232.4 153.6Z" fill="#38c896"/>
<path d="M228.6 175.1L239 156.9L232.4 153.6L222 173.7Z" fill="#1aacdd"/>
<path d="M218.3 148.9L228.6 175.1L222 173.7L211.7 147.2Z" fill="#a1c840"/>
<path d="M207.9 193.1L218.3 148.9L211.7 147.2L201.3 193.8Z" fill="#307efb"/>
<path d="M197.5 138.2L207.9 193.1L201.3 193.8L190.9 137.4Z" fill="#fec437"/>
<path d="M187.2 189.5L197.5 138.2L190.9 137.4L180.6 185Z" fill="#269ae9"/>
<path d="M176.8 147.1L187.2 189.5L180.6 185L170.2 145.5Z" fill="#f0ba36"/>
<path d="M411.3 105L421.7 153.7L415.1 155.3L404.7 101.9Z" fill="#e2bc2b"/>
<path d="M401 107.6L411.3 105L404.7 101.9L394.4 103.9Z" fill="#debc2a"/>
<path d="M390.6 153.7L401 107.6L394.4 103.9L384 155Z" fill="#2a93ee"/>
<path d="M380.3 112.5L390.6 153.7L384 155L373.7 114.4Z" fill="#dabd28"/>
<path d="M369.9 119.5L380.3 112.5L373.7 114.4L363.3 124.2Z" fill="#b3c534"/>
<path d="M359.6 153.8L369.9 119.5L363.3 124.2L352.9 152.4Z" fill="#1fa6e1"/>
<path d="M349.2 119.5L359.6 153.8L352.9 152.4L342.6 119.5Z" fill="#d5be28"/>
<path d="M338.8 123.2L349.2 119.5L342.6 119.5L332.2 123.4Z" fill="#c9c129"/>
<path d="M328.5 152.2L338.8 123.2L332.2 123.4L321.9 153.2Z" fill="#01b9c6"/>
<path d="M318.1 126.8L328.5 152.2L321.9 153.2L311.5 124.1Z" fill="#cec028"/>
<path d="M307.8 131.2L318.1 126.8L311.5 124.1L301.1 127Z" fill="#bcc42f"/>
<path d="M297.4 154.1L307.8 131.2L301.1 127L290.8 152Z" fill="#1fc0b2"/>
<path d="M287 160.2L297.4 154.1L290.8 152L280.4 156.2Z" fill="#02bac4"/>
<path d="M276.7 143.5L287 160.2L280.4 156.2L270.1 141.6Z" fill="#86cb55"/>
<path d="M266.3 148.6L276.7 143.5L270.1 141.6L259.7 145.6Z" fill="#69cd6b"/>
<path d="M255.9 160.8L266.3 148.6L259.7 145.6L249.3 157.1Z" fill="#2ac3a9"/>
<path d="M245.6 160.1L255.9 160.8L249.3 157.1L239 156.9Z" fill="#35c79a"/>
<path d="M235.2 181.3L245.6 160.1L239 156.9L228.6 175.1Z" fill="#23a0e5"/>
<path d="M224.9 149.6L235.2 181.3L228.6 175.1L218.3 148.9Z" fill="#b0c636"/>
<path d="M214.5 194.6L224.9 149.6L218.3 148.9L207.9 193.1Z" fill="#2f82fa"/>
<path d="M204.1 139L214.5 194.6L207.9 193.1L197.5 138.2Z" fill="#feca33"/>
<path d="M193.8 196.3L204.1 139L197.5 138.2L187.2 189.5Z" fill="#2d8bf4"/>
<path d="M183.4 167.1L193.8 196.3L187.2 189.5L176.8 147.1Z" fill="#5ccc76"/>
<path d="M418 103.1L428.3 154L421.7 153.7L411.3 105Z" fill="#fabb3d"/>
<path d="M407.6 108.4L418 103.1L411.3 105L401 107.6Z" fill="#e8bb2f"/>
<path d="M397.2 157.1L407.6 108.4L401 107.6L390.6 153.7Z" fill="#2c8ff1"/>
<path d="M386.9 108.9L397.2 157.1L390.6 153.7L380.3 112.5Z" fill="#fcbc3d"/>
<path d="M376.5 117.7L386.9 108.9L380.3 112.5L369.9 119.5Z" fill="#d4bf28"/>
<path d="M366.2 154.4L376.5 117.7L369.9 119.5L359.6 153.8Z" fill="#1aabdd"/>
<path d="M355.8 120.8L366.2 154.4L359.6 153.8L349.2 119.5Z" fill="#ddbd29"/>
<path d="M345.4 125.2L355.8 120.8L349.2 119.5L338.8 123.2Z" fill="#cbc029"/>
<path d="M335.1 155.7L345.4 125.2L338.8 123.2L328.5 152.2Z" fill="#02b7cb"/>
<path d="M324.7 133.1L335.1 155.7L328.5 152.2L318.1 126.8Z" fill="#adc738"/>
<path d="M314.4 138.6L324.7 133.1L318.1 126.8L307.8 131.2Z" fill="#8ecb4f"/>
<path d="M304 154L314.4 138.6L307.8 131.2L297.4 154.1Z" fill="#2dc4a6"/>
<path d="M293.6 159.9L304 154L297.4 154.1L287 160.2Z" fill="#13beb8"/>
<path d="M283.3 144.8L293.6 159.9L287 160.2L276.7 143.5Z" fill="#8fca4d"/>
<path d="M272.9 151.4L283.3 144.8L276.7 143.5L266.3 148.6Z" fill="#64cd6f"/>
<path d="M262.6 161.3L272.9 151.4L266.3 148.6L255.9 160.8Z" fill="#31c6a0"/>
<path d="M252.2 163.1L262.6 161.3L255.9 160.8L245.6 160.1Z" fill="#32c69e"/>
<path d="M241.8 177.4L252.2 163.1L245.6 160.1L235.2 181.3Z" fill="#11b1d6"/>
<path d="M231.5 154L241.8 177.4L235.2 181.3L224.9 149.6Z" fill="#9cc944"/>
<path d="M221.1 198.7L231.5 154L224.9 149.6L214.5 194.6Z" fill="#337afd"/>
<path d="M210.8 144.2L221.1 198.7L214.5 194.6L204.1 139Z" fill="#febe3c"/>
<path d="M200.4 192.2L210.8 144.2L204.1 139L193.8 196.3Z" fill="#23a0e5"/>
<path d="M190 155.9L200.4 192.2L193.8 196.3L183.4 167.1Z" fill="#d4bf28"/>
<path d="M424.6 103.5L434.9 153.7L428.3 154L418 103.1Z" fill="#fec13a"/>
<path d="M414.2 103.2L424.6 103.5L418 103.1L407.6 108.4Z" fill="#feca33"/>
<path d="M403.9 171.9L414.2 103.2L407.6 108.4L397.2 157.1Z" fill="#465ffb"/>
<path d="M393.5 106.1L403.9 171.9L397.2 157.1L386.9 108.9Z" fill="#fcd030"/>
<path d="M383.1 116.1L393.5 106.1L386.9 108.9L376.5 117.7Z" fill="#eeba34"/>
<path d="M372.8 157.4L383.1 116.1L376.5 117.7L366.2 154.4Z" fill="#1da9e0"/>
<path d="M362.4 123.3L372.8 157.4L366.2 154.4L355.8 120.8Z" fill="#dbbd29"/>
<path d="M352 127.9L362.4 123.3L355.8 120.8L345.4 125.2Z" fill="#c8c129"/>
<path d="M341.7 161.4L352 127.9L345.4 125.2L335.1 155.7Z" fill="#15afd9"/>
<path d="M331.3 134L341.7 161.4L335.1 155.7L324.7 133.1Z" fill="#b9c431"/>
<path d="M321 140.6L331.3 134L324.7 133.1L314.4 138.6Z" fill="#90ca4d"/>
<path d="M310.6 159.4L321 140.6L314.4 138.6L304 154Z" fill="#19bfb5"/>
<path d="M300.2 162.9L310.6 159.4L304 154L293.6 159.9Z" fill="#0dbdbb"/>
<path d="M289.9 146.5L300.2 162.9L293.6 159.9L283.3 144.8Z" fill="#94ca4a"/>
<path d="M279.5 150.7L289.9 146.5L283.3 144.8L272.9 151.4Z" fill="#80cc59"/>
<path d="M269.2 164.5L279.5 150.7L272.9 151.4L262.6 161.3Z" fill="#2dc4a5"/>
<path d="M258.8 163.1L269.2 164.5L262.6 161.3L252.2 163.1Z" fill="#3cc992"/>
<path d="M248.4 183.1L258.8 163.1L252.2 163.1L241.8 177.4Z" fill="#1da8e0"/>
<path d="M238.1 153.2L248.4 183.1L241.8 177.4L231.5 154Z" fill="#b8c431"/>
<path d="M227.7 203L238.1 153.2L231.5 154L221.1 198.7Z" fill="#3b72ff"/>
<path d="M217.4 142L227.7 203L221.1 198.7L210.8 144.2Z" fill="#fcd030"/>
<path d="M207 197.9L217.4 142L210.8 144.2L200.4 192.2Z" fill="#2895ec"/>
<path d="M196.7 149.6L207 197.9L200.4 192.2L190 155.9Z" fill="#fec338"/>
<path d="M431.2 107.9L441.5 155.3L434.9 153.7L424.6 103.5Z" fill="#f9bb3d"/>
<path d="M420.8 96.6L431.2 107.9L424.6 103.5L414.2 103.2Z" fill="#f6ef20"/>
<path d="M410.5 183.7L420.8 96.6L414.2 103.2L403.9 171.9Z" fill="#463bdd"/>
<path d="M400.1 109.3L410.5 183.7L403.9 171.9L393.5 106.1Z" fill="#fdcc32"/>
<path d="M389.7 118L400.1 109.3L393.5 106.1L383.1 116.1Z" fill="#f0ba36"/>
<path d="M379.4 159.3L389.7 118L383.1 116.1L372.8 157.4Z" fill="#1baadf"/>
<path d="M369 132.1L379.4 159.3L372.8 157.4L362.4 123.3Z" fill="#a6c83d"/>
<path d="M358.7 135.3L369 132.1L362.4 123.3L352 127.9Z" fill="#9bc944"/>
<path d="M348.3 163.7L358.7 135.3L352 127.9L341.7 161.4Z" fill="#15afd9"/>
<path d="M337.9 140L348.3 163.7L341.7 161.4L331.3 134Z" fill="#97ca48"/>
<path d="M327.6 146.5L337.9 140L331.3 134L321 140.6Z" fill="#6dcd68"/>
<path d="M317.2 162.3L327.6 146.5L321 140.6L310.6 159.4Z" fill="#13beb8"/>
<path d="M306.9 166.2L317.2 162.3L310.6 159.4L300.2 162.9Z" fill="#06bcc0"/>
<path d="M296.5 145.3L306.9 166.2L300.2 162.9L289.9 146.5Z" fill="#b4c534"/>
<path d="M286.1 148L296.5 145.3L289.9 146.5L279.5 150.7Z" fill="#afc636"/>
<path d="M275.8 166.1L286.1 148L279.5 150.7L269.2 164.5Z" fill="#30c5a1"/>
<path d="M265.4 163.6L275.8 166.1L269.2 164.5L258.8 163.1Z" fill="#47cb87"/>
<path d="M255.1 187L265.4 163.6L258.8 163.1L248.4 183.1Z" fill="#21a4e3"/>
<path d="M244.7 157.4L255.1 187L248.4 183.1L238.1 153.2Z" fill="#a7c73c"/>
<path d="M234.3 200.9L244.7 157.4L238.1 153.2L227.7 203Z" fill="#2e83f9"/>
<path d="M224 138.3L234.3 200.9L227.7 203L217.4 142Z" fill="#f5e924"/>
<path d="M213.6 206.5L224 138.3L217.4 142L207 197.9Z" fill="#307efb"/>
<path d="M203.3 145.8L213.6 206.5L207 197.9L196.7 149.6Z" fill="#f7dc2a"/>
<path d="M437.8 112.8L448.1 155.9L441.5 155.3L431.2 107.9Z" fill="#eaba31"/>
<path d="M427.4 107.8L437.8 112.8L431.2 107.9L420.8 96.6Z" fill="#feca33"/>
<path d="M417.1 171.5L427.4 107.8L420.8 96.6L410.5 183.7Z" fill="#3b72fe"/>
<path d="M406.7 112.6L417.1 171.5L410.5 183.7L400.1 109.3Z" fill="#fec835"/>
<path d="M396.3 120.8L406.7 112.6L400.1 109.3L389.7 118Z" fill="#edba34"/>
<path d="M386 163.4L396.3 120.8L389.7 118L379.4 159.3Z" fill="#20a5e3"/>
<path d="M375.6 133.7L386 163.4L379.4 159.3L369 132.1Z" fill="#acc739"/>
<path d="M365.3 138.6L375.6 133.7L369 132.1L358.7 135.3Z" fill="#92ca4c"/>
<path d="M354.9 164.3L365.3 138.6L358.7 135.3L348.3 163.7Z" fill="#0bb3d2"/>
<path d="M344.5 142.3L354.9 164.3L348.3 163.7L337.9 140Z" fill="#97ca48"/>
<path d="M334.2 149L344.5 142.3L337.9 140L327.6 146.5Z" fill="#6bcd69"/>
<path d="M323.8 160.4L334.2 149L327.6 146.5L317.2 162.3Z" fill="#2ec5a4"/>
<path d="M313.5 169.3L323.8 160.4L317.2 162.3L306.9 166.2Z" fill="#02bac4"/>
<path d="M303.1 148.3L313.5 169.3L306.9 166.2L296.5 145.3Z" fill="#aec637"/>
<path d="M292.8 150.1L303.1 148.3L296.5 145.3L286.1 148Z" fill="#b1c635"/>
<path d="M282.4 167.9L292.8 150.1L286.1 148L275.8 166.1Z" fill="#32c69f"/>
<path d="M272 165.2L282.4 167.9L275.8 166.1L265.4 163.6Z" fill="#4dcc82"/>
<path d="M261.7 185.3L272 165.2L265.4 163.6L255.1 187Z" fill="#16afd9"/>
<path d="M251.3 157.2L261.7 185.3L255.1 187L244.7 157.4Z" fill="#bcc42f"/>
<path d="M240.9 200.7L251.3 157.2L244.7 157.4L234.3 200.9Z" fill="#2d8cf3"/>
<path d="M230.6 150.3L240.9 200.7L234.3 200.9L224 138.3Z" fill="#fec13a"/>
<path d="M220.2 198.7L230.6 150.3L224 138.3L213.6 206.5Z" fill="#23a1e5"/>
<path d="M209.9 157L220.2 198.7L213.6 206.5L203.3 145.8Z" fill="#f8ba3d"/>
<path d="M444.4 113.6L454.8 158.4L448.1 155.9L437.8 112.8Z" fill="#f3ba39"/>
<path d="M434 114.6L444.4 113.6L437.8 112.8L427.4 107.8Z" fill="#f9bb3d"/>
<path d="M423.7 168.1L434 114.6L427.4 107.8L417.1 171.5Z" fill="#2d88f6"/>
<path d="M413.3 115.8L423.7 168.1L417.1 171.5L406.7 112.6Z" fill="#fec437"/>
<path d="M403 123.2L413.3 115.8L406.7 112.6L396.3 120.8Z" fill="#edba33"/>
<path d="M392.6 167.5L403 123.2L396.3 120.8L386 163.4Z" fill="#239fe5"/>
<path d="M382.2 134.5L392.6 167.5L386 163.4L375.6 133.7Z" fill="#b9c431"/>
<path d="M371.9 140.6L382.2 134.5L375.6 133.7L365.3 138.6Z" fill="#95ca49"/>
<path d="M361.5 166L371.9 140.6L365.3 138.6L354.9 164.3Z" fill="#08b5d0"/>
<path d="M351.2 137.3L361.5 166L354.9 164.3L344.5 142.3Z" fill="#d5be28"/>
<path d="M340.8 141.3L351.2 137.3L344.5 142.3L334.2 149Z" fill="#c7c12a"/>
<path d="M330.4 162.1L340.8 141.3L334.2 149L323.8 160.4Z" fill="#30c5a1"/>
<path d="M320.1 171.5L330.4 162.1L323.8 160.4L313.5 169.3Z" fill="#02bac4"/>
<path d="M309.7 151.7L320.1 171.5L313.5 169.3L303.1 148.3Z" fill="#a4c83e"/>
<path d="M299.4 154.3L309.7 151.7L303.1 148.3L292.8 150.1Z" fill="#a0c941"/>
<path d="M289 174.9L299.4 154.3L292.8 150.1L282.4 167.9Z" fill="#17bfb6"/>
<path d="M278.6 168.9L289 174.9L282.4 167.9L272 165.2Z" fill="#42ca8b"/>
<path d="M268.3 189.8L278.6 168.9L272 165.2L261.7 185.3Z" fill="#1da9e0"/>
<path d="M257.9 162.9L268.3 189.8L261.7 185.3L251.3 157.2Z" fill="#9ec942"/>
<path d="M247.6 201L257.9 162.9L251.3 157.2L240.9 200.7Z" fill="#2a93ee"/>
<path d="M237.2 150.4L247.6 201L240.9 200.7L230.6 150.3Z" fill="#feca33"/>
<path d="M226.8 202.5L237.2 150.4L230.6 150.3L220.2 198.7Z" fill="#259ce7"/>
<path d="M216.5 160.9L226.8 202.5L220.2 198.7L209.9 157Z" fill="#efba35"/>
<path d="M451 117.3L461.4 165.7L454.8 158.4L444.4 113.6Z" fill="#ebba31"/>
<path d="M440.6 117.6L451 117.3L444.4 113.6L434 114.6Z" fill="#f5ba3b"/>
<path d="M430.3 169L440.6 117.6L434 114.6L423.7 168.1Z" fill="#2d8df2"/>
<path d="M419.9 119.6L430.3 169L423.7 168.1L413.3 115.8Z" fill="#febe3c"/>
<path d="M409.6 127.3L419.9 119.6L413.3 115.8L403 123.2Z" fill="#e1bc2b"/>
<path d="M399.2 167.9L409.6 127.3L403 123.2L392.6 167.5Z" fill="#20a5e2"/>
<path d="M388.9 139L399.2 167.9L392.6 167.5L382.2 134.5Z" fill="#a5c83d"/>
<path d="M378.5 144.2L388.9 139L382.2 134.5L371.9 140.6Z" fill="#88cb53"/>
<path d="M368.1 170.2L378.5 144.2L371.9 140.6L361.5 166Z" fill="#13b0d7"/>
<path d="M357.8 141.5L368.1 170.2L361.5 166L351.2 137.3Z" fill="#c7c12a"/>
<path d="M347.4 144.5L357.8 141.5L351.2 137.3L340.8 141.3Z" fill="#bfc32d"/>
<path d="M337.1 163.4L347.4 144.5L340.8 141.3L330.4 162.1Z" fill="#34c79c"/>
<path d="M326.7 173.4L337.1 163.4L330.4 162.1L320.1 171.5Z" fill="#04bbc2"/>
<path d="M316.3 155.6L326.7 173.4L320.1 171.5L309.7 151.7Z" fill="#95ca49"/>
<path d="M306 158.8L316.3 155.6L309.7 151.7L299.4 154.3Z" fill="#8acb52"/>
<path d="M295.6 173.3L306 158.8L299.4 154.3L289 174.9Z" fill="#2fc5a3"/>
<path d="M285.2 170.1L295.6 173.3L289 174.9L278.6 168.9Z" fill="#4acb84"/>
<path d="M274.9 189.2L285.2 170.1L278.6 168.9L268.3 189.8Z" fill="#13b0d7"/>
<path d="M264.5 166.4L274.9 189.2L268.3 189.8L257.9 162.9Z" fill="#92ca4b"/>
<path d="M254.2 204.8L264.5 166.4L257.9 162.9L247.6 201Z" fill="#2c8ef2"/>
<path d="M243.8 148.2L254.2 204.8L247.6 201L237.2 150.4Z" fill="#f7dd2a"/>
<path d="M233.5 218.9L243.8 148.2L237.2 150.4L226.8 202.5Z" fill="#4368fe"/>
<path d="M223.1 163.5L233.5 218.9L226.8 202.5L216.5 160.9Z" fill="#edba33"/>
<path d="M457.6 119.2L468 170.4L461.4 165.7L451 117.3Z" fill="#edba33"/>
<path d="M447.3 117.6L457.6 119.2L451 117.3L440.6 117.6Z" fill="#febe3c"/>
<path d="M436.9 177.1L447.3 117.6L440.6 117.6L430.3 169Z" fill="#3677fe"/>
<path d="M426.5 123.4L436.9 177.1L430.3 169L419.9 119.6Z" fill="#f9bb3d"/>
<path d="M416.2 131.7L426.5 123.4L419.9 119.6L409.6 127.3Z" fill="#d2bf27"/>
<path d="M405.8 171.6L416.2 131.7L409.6 127.3L399.2 167.9Z" fill="#23a1e4"/>
<path d="M395.5 134.8L405.8 171.6L399.2 167.9L388.9 139Z" fill="#dabd28"/>
<path d="M385.1 140.3L395.5 134.8L388.9 139L378.5 144.2Z" fill="#c0c32d"/>
<path d="M374.7 171.2L385.1 140.3L378.5 144.2L368.1 170.2Z" fill="#0bb3d2"/>
<path d="M364.4 143.7L374.7 171.2L368.1 170.2L357.8 141.5Z" fill="#c7c12a"/>
<path d="M354 148.3L364.4 143.7L357.8 141.5L347.4 144.5Z" fill="#b2c635"/>
<path d="M343.7 168.9L354 148.3L347.4 144.5L337.1 163.4Z" fill="#26c2ac"/>
<path d="M333.3 172.2L343.7 168.9L337.1 163.4L326.7 173.4Z" fill="#1fc0b2"/>
<path d="M322.9 155.9L333.3 172.2L326.7 173.4L316.3 155.6Z" fill="#a7c73c"/>
<path d="M312.6 160.1L322.9 155.9L316.3 155.6L306 158.8Z" fill="#94ca4a"/>
<path d="M302.2 177.6L312.6 160.1L306 158.8L295.6 173.3Z" fill="#25c2ad"/>
<path d="M291.9 168.3L302.2 177.6L295.6 173.3L285.2 170.1Z" fill="#6dcd67"/>
<path d="M281.5 195.6L291.9 168.3L285.2 170.1L274.9 189.2Z" fill="#20a5e2"/>
<path d="M271.1 168.2L281.5 195.6L274.9 189.2L264.5 166.4Z" fill="#98ca47"/>
<path d="M260.8 206.7L271.1 168.2L264.5 166.4L254.2 204.8Z" fill="#2c8ff1"/>
<path d="M250.4 155.7L260.8 206.7L254.2 204.8L243.8 148.2Z" fill="#fec735"/>
<path d="M240.1 207L250.4 155.7L243.8 148.2L233.5 218.9Z" fill="#259ce7"/>
<path d="M229.7 165.8L240.1 207L233.5 218.9L223.1 163.5Z" fill="#edba33"/>
<path d="M464.2 123.7L474.6 170.6L468 170.4L457.6 119.2Z" fill="#dfbc2a"/>
<path d="M453.9 120.7L464.2 123.7L457.6 119.2L447.3 117.6Z" fill="#fcbc3d"/>
<path d="M443.5 186.2L453.9 120.7L447.3 117.6L436.9 177.1Z" fill="#475dfa"/>
<path d="M433.1 124.6L443.5 186.2L436.9 177.1L426.5 123.4Z" fill="#fdbd3d"/>
<path d="M422.8 132.5L433.1 124.6L426.5 123.4L416.2 131.7Z" fill="#ddbd29"/>
<path d="M412.4 171.4L422.8 132.5L416.2 131.7L405.8 171.6Z" fill="#1da8e0"/>
<path d="M402.1 137.3L412.4 171.4L405.8 171.6L395.5 134.8Z" fill="#d9be28"/>
<path d="M391.7 144.8L402.1 137.3L395.5 134.8L385.1 140.3Z" fill="#adc638"/>
<path d="M381.3 176.2L391.7 144.8L385.1 140.3L374.7 171.2Z" fill="#19addc"/>
<path d="M371 143.7L381.3 176.2L374.7 171.2L364.4 143.7Z" fill="#d8be28"/>
<path d="M360.6 149.3L371 143.7L364.4 143.7L354 148.3Z" fill="#bdc32f"/>
<path d="M350.3 168.9L360.6 149.3L354 148.3L343.7 168.9Z" fill="#30c5a1"/>
<path d="M339.9 176.4L350.3 168.9L343.7 168.9L333.3 172.2Z" fill="#0fbebb"/>
<path d="M329.6 160.3L339.9 176.4L333.3 172.2L322.9 155.9Z" fill="#93ca4b"/>
<path d="M319.2 164.7L329.6 160.3L322.9 155.9L312.6 160.1Z" fill="#7dcc5b"/>
<path d="M308.8 177.9L319.2 164.7L312.6 160.1L302.2 177.6Z" fill="#2ec5a4"/>
<path d="M298.5 172.5L308.8 177.9L302.2 177.6L291.9 168.3Z" fill="#5dcc75"/>
<path d="M288.1 196.7L298.5 172.5L291.9 168.3L281.5 195.6Z" fill="#1da9e0"/>
<path d="M277.8 170.8L288.1 196.7L281.5 195.6L271.1 168.2Z" fill="#94ca4a"/>
<path d="M267.4 210.1L277.8 170.8L271.1 168.2L260.8 206.7Z" fill="#2d8bf3"/>
<path d="M257 160.2L267.4 210.1L260.8 206.7L250.4 155.7Z" fill="#febe3c"/>
<path d="M246.7 210L257 160.2L250.4 155.7L240.1 207Z" fill="#269ae9"/>
<path d="M236.3 166.6L246.7 210L240.1 207L229.7 165.8Z" fill="#f6ba3b"/>
<path d="M470.8 122.6L481.2 171.8L474.6 170.6L464.2 123.7Z" fill="#f3ba39"/>
<path d="M460.5 125.2L470.8 122.6L464.2 123.7L453.9 120.7Z" fill="#f1ba37"/>
<path d="M450.1 184L460.5 125.2L453.9 120.7L443.5 186.2Z" fill="#3f6efe"/>
<path d="M439.8 125.8L450.1 184L443.5 186.2L433.1 124.6Z" fill="#fec13a"/>
<path d="M429.4 134.9L439.8 125.8L433.1 124.6L422.8 132.5Z" fill="#dcbd29"/>
<path d="M419 175.1L429.4 134.9L422.8 132.5L412.4 171.4Z" fill="#20a4e3"/>
<path d="M408.7 137.3L419 175.1L412.4 171.4L402.1 137.3Z" fill="#e8bb2f"/>
<path d="M398.3 147.6L408.7 137.3L402.1 137.3L391.7 144.8Z" fill="#a8c73b"/>
<path d="M388 180.9L398.3 147.6L391.7 144.8L381.3 176.2Z" fill="#1fa6e2"/>
<path d="M377.6 147.8L388 180.9L381.3 176.2L371 143.7Z" fill="#cac129"/>
<path d="M367.2 150.8L377.6 147.8L371 143.7L360.6 149.3Z" fill="#c3c22b"/>
<path d="M356.9 167.1L367.2 150.8L360.6 149.3L350.3 168.9Z" fill="#45cb89"/>
<path d="M346.5 181.9L356.9 167.1L350.3 168.9L339.9 176.4Z" fill="#01b8c9"/>
<path d="M336.2 161.9L346.5 181.9L339.9 176.4L329.6 160.3Z" fill="#9ac945"/>
<path d="M325.8 164.4L336.2 161.9L329.6 160.3L319.2 164.7Z" fill="#97ca48"/>
<path d="M315.4 184L325.8 164.4L319.2 164.7L308.8 177.9Z" fill="#18bfb6"/>
<path d="M305.1 176.1L315.4 184L308.8 177.9L298.5 172.5Z" fill="#52cc7e"/>
<path d="M294.7 196.4L305.1 176.1L298.5 172.5L288.1 196.7Z" fill="#14b0d8"/>
<path d="M284.4 169.5L294.7 196.4L288.1 196.7L277.8 170.8Z" fill="#b5c533"/>
<path d="M274 215.3L284.4 169.5L277.8 170.8L267.4 210.1Z" fill="#2f81fa"/>
<path d="M263.6 162.8L274 215.3L267.4 210.1L257 160.2Z" fill="#fdbd3d"/>
<path d="M253.3 210.8L263.6 162.8L257 160.2L246.7 210Z" fill="#249ee6"/>
<path d="M242.9 170L253.3 210.8L246.7 210L236.3 166.6Z" fill="#efba35"/>
<path d="M477.4 125.4L487.8 173.1L481.2 171.8L470.8 122.6Z" fill="#f1ba37"/>
<path d="M467.1 125.2L477.4 125.4L470.8 122.6L460.5 125.2Z" fill="#fcbc3d"/>
<path d="M456.7 184L467.1 125.2L460.5 125.2L450.1 184Z" fill="#3777fe"/>
<path d="M446.4 128.2L456.7 184L450.1 184L439.8 125.8Z" fill="#fec03a"/>
<path d="M436 136.6L446.4 128.2L439.8 125.8L429.4 134.9Z" fill="#dfbc2a"/>
<path d="M425.7 175.6L436 136.6L429.4 134.9L419 175.1Z" fill="#1ca9df"/>
<path d="M415.3 140.9L425.7 175.6L419 175.1L408.7 137.3Z" fill="#dfbc2a"/>
<path d="M404.9 149.8L415.3 140.9L408.7 137.3L398.3 147.6Z" fill="#a9c73a"/>
<path d="M394.6 183.2L404.9 149.8L398.3 147.6L388 180.9Z" fill="#1fa5e2"/>
<path d="M384.2 156.3L394.6 183.2L388 180.9L377.6 147.8Z" fill="#94ca4a"/>
<path d="M373.9 155.4L384.2 156.3L377.6 147.8L367.2 150.8Z" fill="#b0c636"/>
<path d="M363.5 167.9L373.9 155.4L367.2 150.8L356.9 167.1Z" fill="#50cc80"/>
<path d="M353.1 187.1L363.5 167.9L356.9 167.1L346.5 181.9Z" fill="#10b2d5"/>
<path d="M342.8 167.3L353.1 187.1L346.5 181.9L336.2 161.9Z" fill="#7ccc5c"/>
<path d="M332.4 168.3L342.8 167.3L336.2 161.9L325.8 164.4Z" fill="#87cb54"/>
<path d="M322.1 185.4L332.4 168.3L325.8 164.4L315.4 184Z" fill="#1fc0b2"/>
<path d="M311.7 176.5L322.1 185.4L315.4 184L305.1 176.1Z" fill="#61cd71"/>
<path d="M301.3 197.6L311.7 176.5L305.1 176.1L294.7 196.4Z" fill="#0fb2d4"/>
<path d="M291 169.5L301.3 197.6L294.7 196.4L284.4 169.5Z" fill="#c8c129"/>
<path d="M280.6 221.9L291 169.5L284.4 169.5L274 215.3Z" fill="#3e70ff"/>
<path d="M270.2 166.6L280.6 221.9L274 215.3L263.6 162.8Z" fill="#f7ba3c"/>
<path d="M259.9 213.1L270.2 166.6L263.6 162.8L253.3 210.8Z" fill="#249ee6"/>
<path d="M249.5 175.3L259.9 213.1L253.3 210.8L242.9 170Z" fill="#dcbd29"/>
<path d="M484.1 129.3L494.4 174.4L487.8 173.1L477.4 125.4Z" fill="#e7bb2e"/>
<path d="M473.7 124.7L484.1 129.3L477.4 125.4L467.1 125.2Z" fill="#fec636"/>
<path d="M463.3 193L473.7 124.7L467.1 125.2L456.7 184Z" fill="#475dfa"/>
<path d="M453 130.7L463.3 193L456.7 184L446.4 128.2Z" fill="#febf3b"/>
<path d="M442.6 139.1L453 130.7L446.4 128.2L436 136.6Z" fill="#debc2a"/>
<path d="M432.3 179L442.6 139.1L436 136.6L425.7 175.6Z" fill="#1fa6e2"/>
<path d="M421.9 139.7L432.3 179L425.7 175.6L415.3 140.9Z" fill="#f5ba3a"/>
<path d="M411.5 151.8L421.9 139.7L415.3 140.9L404.9 149.8Z" fill="#acc739"/>
<path d="M401.2 185.8L411.5 151.8L404.9 149.8L394.6 183.2Z" fill="#20a5e3"/>
<path d="M390.8 160.7L401.2 185.8L394.6 183.2L384.2 156.3Z" fill="#80cc59"/>
<path d="M380.5 159.1L390.8 160.7L384.2 156.3L373.9 155.4Z" fill="#a3c83f"/>
<path d="M370.1 162.6L380.5 159.1L373.9 155.4L363.5 167.9Z" fill="#96ca48"/>
<path d="M359.7 187.6L370.1 162.6L363.5 167.9L353.1 187.1Z" fill="#05b6ce"/>
<path d="M349.4 169.5L359.7 187.6L353.1 187.1L342.8 167.3Z" fill="#7ccc5c"/>
<path d="M339 172.5L349.4 169.5L342.8 167.3L332.4 168.3Z" fill="#74cd62"/>
<path d="M328.7 189.4L339 172.5L332.4 168.3L322.1 185.4Z" fill="#10beba"/>
<path d="M318.3 177.1L328.7 189.4L322.1 185.4L311.7 176.5Z" fill="#70cd65"/>
<path d="M307.9 199.9L318.3 177.1L311.7 176.5L301.3 197.6Z" fill="#0fb2d5"/>
<path d="M297.6 173L307.9 199.9L301.3 197.6L291 169.5Z" fill="#bec32e"/>
<path d="M287.2 224.6L297.6 173L291 169.5L280.6 221.9Z" fill="#3f6eff"/>
<path d="M276.9 164.8L287.2 224.6L280.6 221.9L270.2 166.6Z" fill="#fec735"/>
<path d="M266.5 219.6L276.9 164.8L270.2 166.6L259.9 213.1Z" fill="#2b91ef"/>
<path d="M256.1 172.8L266.5 219.6L259.9 213.1L249.5 175.3Z" fill="#f9bb3d"/>
<path d="M490.7 134.4L501 176.7L494.4 174.4L484.1 129.3Z" fill="#d4bf27"/>
<path d="M480.3 131.3L490.7 134.4L484.1 129.3L473.7 124.7Z" fill="#f5ba3b"/>
<path d="M469.9 192.3L480.3 131.3L473.7 124.7L463.3 193Z" fill="#4368fe"/>
<path d="M459.6 133.3L469.9 192.3L463.3 193L453 130.7Z" fill="#febe3c"/>
<path d="M449.2 142.1L459.6 133.3L453 130.7L442.6 139.1Z" fill="#d9be28"/>
<path d="M438.9 179.2L449.2 142.1L442.6 139.1L432.3 179Z" fill="#1aacdd"/>
<path d="M428.5 142.2L438.9 179.2L432.3 179L421.9 139.7Z" fill="#f4ba39"/>
<path d="M418.1 158.1L428.5 142.2L421.9 139.7L411.5 151.8Z" fill="#86cb54"/>
<path d="M407.8 190.4L418.1 158.1L411.5 151.8L401.2 185.8Z" fill="#249de6"/>
<path d="M397.4 163.1L407.8 190.4L401.2 185.8L390.8 160.7Z" fill="#7ecc5a"/>
<path d="M387.1 159.6L397.4 163.1L390.8 160.7L380.5 159.1Z" fill="#b3c534"/>
<path d="M376.7 162.2L387.1 159.6L380.5 159.1L370.1 162.6Z" fill="#afc637"/>
<path d="M366.3 191L376.7 162.2L370.1 162.6L359.7 187.6Z" fill="#0bb3d2"/>
<path d="M356 176.1L366.3 191L359.7 187.6L349.4 169.5Z" fill="#55cc7b"/>
<path d="M345.6 175.6L356 176.1L349.4 169.5L339 172.5Z" fill="#6ccd68"/>
<path d="M335.3 191.8L345.6 175.6L339 172.5L328.7 189.4Z" fill="#0fbeba"/>
<path d="M324.9 181.7L335.3 191.8L328.7 189.4L318.3 177.1Z" fill="#5ccc76"/>
<path d="M314.5 200.5L324.9 181.7L318.3 177.1L307.9 199.9Z" fill="#05b6ce"/>
<path d="M304.2 176.9L314.5 200.5L307.9 199.9L297.6 173Z" fill="#b0c636"/>
<path d="M293.8 226.5L304.2 176.9L297.6 173L287.2 224.6Z" fill="#3e6fff"/>
<path d="M283.5 172.3L293.8 226.5L287.2 224.6L276.9 164.8Z" fill="#f1ba37"/>
<path d="M273.1 214.7L283.5 172.3L276.9 164.8L266.5 219.6Z" fill="#1ea7e1"/>
<path d="M262.8 178L273.1 214.7L266.5 219.6L256.1 172.8Z" fill="#e8bb2f"/>
</g>
<path d="M60.7 211L60.7 61.8M60.7 211L259 279.4M259 279.4L518 226.4M60.7 211L54.1 208.7M60.7 173.7L54.1 171.4M60.7 136.4L54.1 134.1M60.7 99.1L54.1 96.8M60.7 61.8L54.1 59.5M259 279.4L252.1 280.8M192.9 256.6L186 258M126.8 233.8L119.9 235.2M60.7 211L53.8 212.4M259 279.4L265.6 281.7M310.8 268.8L317.4 271.1M362.6 258.2L369.2 260.5M414.4 247.6L421 249.9M466.2 237L472.8 239.3M518 226.4L524.6 228.7" stroke="#262626" stroke-width="1" fill="none"/>
<g font-family="'Liberation Serif', 'Times New Roman', serif" font-size="16.3" fill="#1a1a1a">
<text x="47.3" y="213.1" text-anchor="end">−1</text>
<text x="47.3" y="175.8" text-anchor="end">−0.5</text>
<text x="47.3" y="138.5" text-anchor="end">0</text>
<text x="47.3" y="101.2" text-anchor="end">0.5</text>
<text x="47.3" y="63.9" text-anchor="end">1</text>
<text x="247.4" y="297.7" text-anchor="end">0</text>
<text x="181.3" y="274.9" text-anchor="end">10</text>
<text x="115.2" y="252.1" text-anchor="end">20</text>
<text x="49.1" y="229.3" text-anchor="end">30</text>
<text x="270.3" y="298.6">0</text>
<text x="322.1" y="288">5</text>
<text x="373.9" y="277.4">10</text>
<text x="425.7" y="266.8">15</text>
<text x="477.5" y="256.2">20</text>
<text x="529.3" y="245.6">25</text>
</g>
<g font-family="'Liberation Serif', 'Times New Roman', serif" font-size="17.9" fill="#1a1a1a">
<text x="140.2" y="304.7" text-anchor="middle">Time/d</text>
<text x="392.2" y="308.5" text-anchor="middle">Time/h</text>
<text transform="translate(18.9 141) rotate(-90)" text-anchor="middle">Wind power forecast error/MW</text>
</g>
</svg>
</body></html>
